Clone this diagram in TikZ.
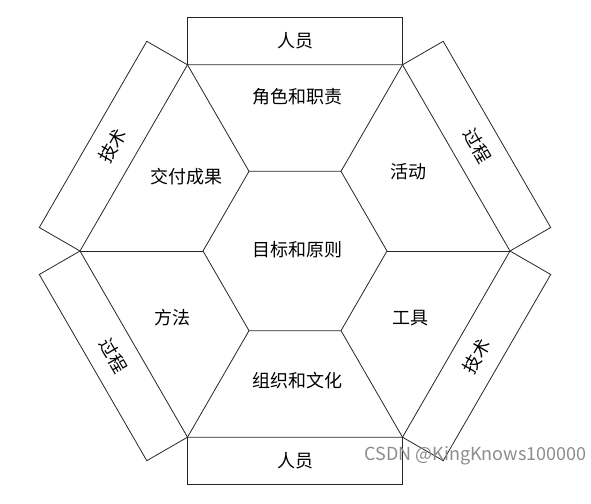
\documentclass[tikz,border=0pt]{standalone}
\usepackage{fontspec}
\setmainfont{Noto Sans CJK SC}
\usetikzlibrary{calc}
\tikzset{
  frame/.style={line width=0.6pt, draw=black!85},
  lbl/.style={font=\fontsize{13.5}{16}\selectfont, inner sep=1pt},
}

\begin{document}
\begin{tikzpicture}[x=0.75pt,y=-0.75pt]
\useasboundingbox (0,0) rectangle (591,503);
\coordinate (c) at (295,251);
% corners of the two hexagons
\foreach \i in {0,...,5} {
  \coordinate (o\i) at ($(c)+(\i*60:215)$);
  \coordinate (n\i) at ($(c)+(\i*60:92)$);
}
\draw[frame] (o0) -- (o1) -- (o2) -- (o3) -- (o4) -- (o5) -- cycle;
\draw[frame] (n0) -- (n1) -- (n2) -- (n3) -- (n4) -- (n5) -- cycle;
\foreach \i in {0,...,5} \draw[frame] (n\i) -- (o\i);
% boxes on the outer sides
\foreach \i in {0,...,5} {
  \pgfmathtruncatemacro{\j}{mod(\i+1,6)}
  \draw[frame] (o\i) -- ($(o\i)+(\i*60+30:47)$) -- ($(o\j)+(\i*60+30:47)$) -- (o\j);
}
\node[lbl] (goal) at (297,250) {目标和原则};
\node[lbl] (roles) at (297,97) {角色和职责};
\node[lbl] (deliv) at (186,177) {交付成果};
\node[lbl] (activ) at (408,172) {活动};
\node[lbl] (method) at (172,318) {方法};
\node[lbl] (tools) at (410,318) {工具};
\node[lbl] (org) at (297,381) {组织和文化};
\node[lbl] (peopleT) at ($(o4)!0.5!(o5)+(270:24)$) {人员};
\node[lbl] (peopleB) at ($(o1)!0.5!(o2)+(90:24)$) {人员};
\node[lbl, rotate=60] (techL) at ($(o3)!0.5!(o4)+(210:24)$) {技术};
\node[lbl, rotate=60] (techR) at ($(o0)!0.5!(o1)+(30:24)$) {技术};
\node[lbl, rotate=-60] (procR) at ($(o5)!0.5!(o0)+(330:24)$) {过程};
\node[lbl, rotate=-60] (procL) at ($(o2)!0.5!(o3)+(150:24)$) {过程};
\node[lbl, text=black!45, anchor=east] (mark) at (588,456) {CSDN @KingKnows100000};
\end{tikzpicture}
\end{document}
